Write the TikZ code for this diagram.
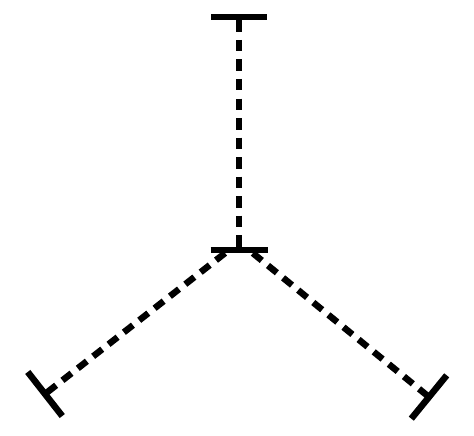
\documentclass[tikz,border=0pt]{standalone}
\usetikzlibrary{calc}
\begin{document}
\begin{tikzpicture}[x=1pt,y=-1pt,
  arm/.style={line width=6.5pt, dash pattern=on 11.5pt off 8pt},
  endbar/.style={line width=6.5pt}]
\useasboundingbox (0,0) rectangle (474,436);
\coordinate (top) at (239,17);
\coordinate (hub) at (239,250);
\coordinate (hubL) at (229,250);
\coordinate (hubR) at (249,250);
\coordinate (left) at (45,394);
\coordinate (right) at (429,397);
\draw[arm, dash phase=16pt] (top) -- (hub);
\draw[arm, dash phase=14.5pt] (hubL) -- (left);
\draw[arm, dash phase=14.5pt] (hubR) -- (right);
\draw[endbar] ($(top)+(-28,0)$) -- ($(top)+(28,0)$);
\draw[endbar] ($(hub)+(-28.5,0)$) -- ($(hub)+(28.5,0)$);
\draw[endbar] ($(left)!28pt!90:(hubL)$) -- ($(left)!28pt!-90:(hubL)$);
\draw[endbar] ($(right)!28pt!90:(hubR)$) -- ($(right)!28pt!-90:(hubR)$);
\end{tikzpicture}
\end{document}
